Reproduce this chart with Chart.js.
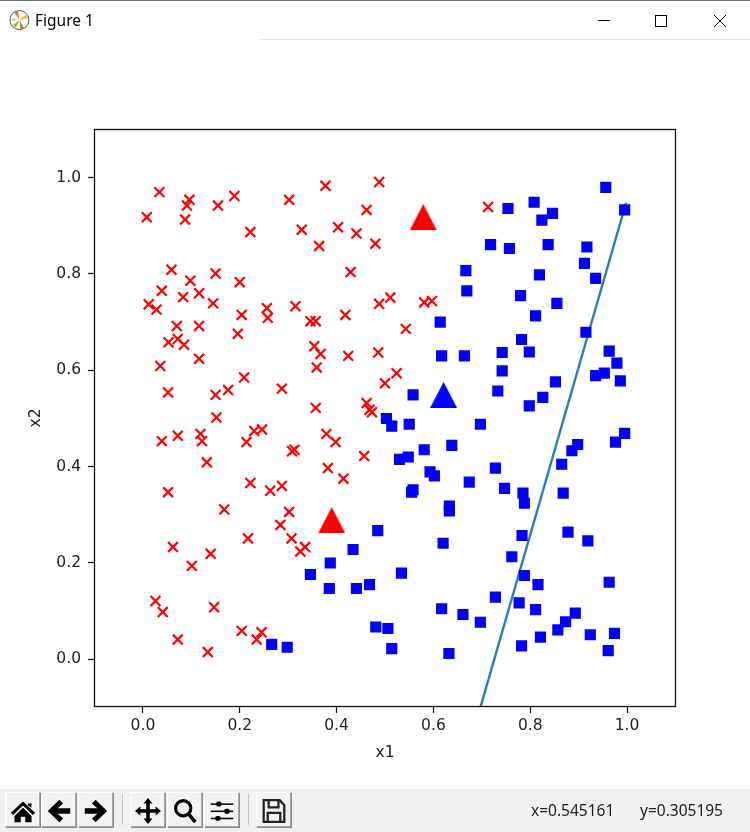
<!DOCTYPE html>
<html>
<head>
<meta charset="utf-8">
<title>Figure 1</title>
<script src="https://cdn.jsdelivr.net/npm/chart.js@4/dist/chart.umd.min.js"></script>
<style>
  html, body { margin: 0; padding: 0; background: #fff; }
  #win { position: relative; width: 750px; height: 832px; overflow: hidden; font-family: "Noto Sans", sans-serif; color: #000; filter: blur(0.35px); }
  #topline { position: absolute; left: 0; top: 0; width: 750px; height: 1px; background: #666; }
  #titleline { position: absolute; left: 260px; top: 39px; width: 490px; height: 1px; background: #e3e3e3; }
  #title { position: absolute; left: 35px; top: 10px; font-size: 15.5px; line-height: 20px; }
  #plot { position: absolute; left: 0; top: 40px; width: 750px; height: 749px; }
  #toolbar { position: absolute; left: 0; top: 789px; width: 750px; height: 43px; background: #f0f0f0; }
  .btn { position: absolute; top: 3px; width: 35px; height: 35px; box-sizing: border-box; border: 1px solid; border-color: #fff #a8a8a8 #a8a8a8 #fff; box-shadow: 1px 1px 0 #8c8c8c; background: #f3f3f3; }
  .btn svg { position: absolute; left: 4px; top: 5px; width: 26px; height: 26px; }
  .sep { position: absolute; top: 5px; width: 1px; height: 31px; background: #c4c4c4; }
  .status { position: absolute; top: 11px; font-size: 15.5px; line-height: 20px; color: #222; }
  svg.chrome { position: absolute; }
</style>
</head>
<body>
<div id="win">
  <div id="topline"></div>
  <svg class="chrome" style="left:9px;top:9px" width="21" height="22" viewBox="0 0 21 22">
    <circle cx="10.5" cy="11" r="9.5" fill="#fff" stroke="#555" stroke-width="1"/>
    <path d="M10.5 11 L5 3 L9 2.5 Z" fill="#e8701a"/>
    <path d="M10.5 11 L18 5 L19 9 Z" fill="#f2b632"/>
    <path d="M10.5 11 L4 16 L7 18.5 Z" fill="#8fb339"/>
    <path d="M10.5 11 L15 19 L11.5 20 Z" fill="#e8701a"/>
    <path d="M10.5 11 L3 9 L2.5 12 Z" fill="#c9c9c9"/>
  </svg>
  <div id="title">Figure 1</div>
  <svg class="chrome" style="left:598px;top:14px" width="130" height="14" viewBox="0 0 130 14" fill="none" stroke="#000" stroke-width="1">
    <path d="M0 6.5 H12"/>
    <rect x="57.5" y="1.5" width="11" height="11"/>
    <path d="M116 1 L128 13 M128 1 L116 13"/>
  </svg>
  <div id="titleline"></div>
  <div id="plot"><canvas id="fig" width="750" height="749"></canvas></div>
  <div id="toolbar">
    <div class="btn" style="left:5px"><svg viewBox="0 0 29 29"><path d="M14.5 4 L28 16.5 L25.5 19 L14.5 8.5 L3.5 19 L1 16.5 Z M20 6 H24 V11 L20 8 Z M14.5 11 L24 20 V27 H17 V21 H12 V27 H5 V20 Z" fill="#000"/></svg></div>
    <div class="btn" style="left:41px"><svg viewBox="0 0 29 29"><path d="M15 2 L19 6 L13 11.5 L27 11.5 L27 17.5 L13 17.5 L19 23 L15 27 L2 14.5 Z" fill="#000"/></svg></div>
    <div class="btn" style="left:78px"><svg viewBox="0 0 29 29"><path d="M14 2 L10 6 L16 11.5 L2 11.5 L2 17.5 L16 17.5 L10 23 L14 27 L27 14.5 Z" fill="#000"/></svg></div>
    <div class="sep" style="left:122px"></div>
    <div class="btn" style="left:130px"><svg viewBox="0 0 29 29"><path d="M14.5 0 L19.5 6 L16.5 6 L16.5 12.5 L23 12.5 L23 9.5 L29 14.5 L23 19.5 L23 16.5 L16.5 16.5 L16.5 23 L19.5 23 L14.5 29 L9.5 23 L12.5 23 L12.5 16.5 L6 16.5 L6 19.5 L0 14.5 L6 9.5 L6 12.5 L12.5 12.5 L12.5 6 L9.5 6 Z" fill="#000"/></svg></div>
    <div class="btn" style="left:167px"><svg viewBox="0 0 29 29" fill="none" stroke="#000"><circle cx="12.5" cy="11.5" r="8.5" stroke-width="3.5"/><path d="M18.5 18 L26 27" stroke-width="4"/></svg></div>
    <div class="btn" style="left:204px"><svg viewBox="0 0 29 29" fill="#000"><rect x="2" y="6" width="25" height="1.7"/><rect x="2" y="14" width="25" height="1.7"/><rect x="2" y="22" width="25" height="1.7"/><rect x="8" y="4" width="6" height="5.5" rx="2"/><rect x="17" y="12" width="6" height="5.5" rx="2"/><rect x="7" y="20" width="6" height="5.5" rx="2"/></svg></div>
    <div class="sep" style="left:248px"></div>
    <div class="btn" style="left:256px"><svg viewBox="0 0 29 29" fill="none" stroke="#222" stroke-width="2.5"><path d="M4 2.5 H21 L26 8 V26.5 H3 V2.5 Z"/><path d="M8.5 3 V10.5 H19.5 V3"/><path d="M7.5 26 V16.5 H21.5 V26"/></svg></div>
    <div class="status" style="left:531px">x=0.545161</div>
    <div class="status" style="left:640px">y=0.305195</div>
  </div>
</div>
<script>
// class 0, crosses
const redX = [0.034,0.096,0.091,0.008,0.087,0.155,0.189,0.302,0.377,0.488,0.462,0.222,0.328,0.403,0.441,0.480,0.364,
  0.059,0.150,0.098,0.200,0.429,0.039,0.116,0.083,0.012,0.028,0.145,0.256,0.258,0.204,0.315,0.346,0.357,0.418,0.488,0.511,
  0.070,0.116,0.196,0.053,0.072,0.085,0.116,0.354,0.367,0.424,0.486,0.359,0.036,0.209,0.052,0.150,0.176,0.287,0.500,
  0.357,0.462,0.473,0.468,0.152,0.713,0.581,0.597,0.543,0.524,
  0.039,0.072,0.119,0.122,0.214,0.230,0.246,0.132,0.313,0.308,0.379,0.398,0.457,0.382,0.414,0.052,0.222,0.263,0.287,
  0.168,0.302,0.284,0.307,0.217,0.335,0.325,0.062,0.140,0.101,0.026,0.041,0.147,0.204,0.245,0.235,0.072,0.134];
const redY = [0.970,0.954,0.942,0.918,0.913,0.942,0.962,0.954,0.983,0.991,0.933,0.887,0.892,0.897,0.884,0.863,0.858,
  0.809,0.801,0.786,0.783,0.804,0.765,0.760,0.752,0.737,0.726,0.739,0.729,0.709,0.715,0.733,0.702,0.702,0.715,0.738,0.751,
  0.692,0.692,0.676,0.658,0.665,0.653,0.624,0.650,0.634,0.630,0.637,0.606,0.609,0.585,0.554,0.549,0.559,0.562,0.573,
  0.522,0.532,0.513,0.518,0.502,0.939,0.741,0.744,0.686,0.594,
  0.453,0.464,0.468,0.453,0.451,0.474,0.477,0.409,0.435,0.432,0.468,0.451,0.422,0.397,0.375,0.347,0.366,0.350,0.360,
  0.311,0.306,0.279,0.251,0.251,0.233,0.224,0.233,0.219,0.194,0.121,0.098,0.108,0.059,0.056,0.041,0.041,0.015];

// class 1, squares
const blueX = [0.956,0.995,0.754,0.808,0.846,0.824,0.718,0.757,0.837,0.917,0.912,0.935,0.819,0.667,0.669,0.780,0.855,0.811,
  0.614,0.915,0.782,0.798,0.742,0.617,0.664,0.742,0.963,0.979,0.953,0.935,0.986,0.852,0.826,0.733,0.798,0.558,
  0.697,0.503,0.514,0.550,0.995,0.976,0.898,0.886,0.865,0.868,0.638,0.581,0.548,0.530,0.593,0.602,0.728,0.674,0.747,
  0.785,0.788,0.558,0.555,0.633,0.633,0.783,0.878,0.919,0.620,0.762,0.534,0.788,0.816,0.963,0.728,0.777,0.811,0.893,
  0.873,0.857,0.617,0.661,0.697,0.924,0.974,0.821,0.782,0.961,0.632,0.506,0.514,0.481,0.485,
  0.434,0.387,0.346,0.385,0.441,0.468,0.266,0.298];
const blueY = [0.980,0.933,0.936,0.949,0.926,0.912,0.861,0.853,0.861,0.856,0.822,0.791,0.798,0.807,0.765,0.755,0.739,0.713,
  0.700,0.679,0.664,0.638,0.637,0.630,0.630,0.599,0.640,0.615,0.594,0.589,0.578,0.576,0.544,0.557,0.526,0.549,
  0.488,0.500,0.484,0.488,0.469,0.451,0.446,0.433,0.405,0.345,0.444,0.435,0.420,0.415,0.389,0.381,0.397,0.368,0.355,
  0.345,0.324,0.352,0.347,0.318,0.308,0.257,0.264,0.246,0.241,0.213,0.179,0.174,0.155,0.160,0.129,0.117,0.103,0.096,
  0.078,0.061,0.105,0.093,0.077,0.051,0.054,0.046,0.028,0.018,0.012,0.064,0.022,0.067,0.267,
  0.228,0.200,0.176,0.147,0.147,0.155,0.031,0.025];

// cluster centres
const redCentreX = [0.579,0.390];
const redCentreY = [0.918,0.289];
const blueCentreX = [0.621];
const blueCentreY = [0.549];

// decision line
const lineX = [0.697,0.998];
const lineY = [-0.100,0.948];

const xTicks = [0.0,0.2,0.4,0.6,0.8,1.0];
const yTicks = [0.0,0.2,0.4,0.6,0.8,1.0];

const zip = (xs, ys) => xs.map((x, i) => ({x: x, y: ys[i]}));

// chart.js triangles are centred on the centroid, matplotlib's on mid height
function triangle(colour) {
  const c = document.createElement('canvas');
  c.width = 27;
  c.height = 26;
  const g = c.getContext('2d');
  g.fillStyle = colour;
  g.beginPath();
  g.moveTo(13.5, 0);
  g.lineTo(27, 26);
  g.lineTo(0, 26);
  g.closePath();
  g.fill();
  return c;
}

// all four spines
const frame = {
  id: 'frame',
  afterDraw(chart) {
    const a = chart.chartArea, g = chart.ctx;
    g.save();
    g.strokeStyle = '#111';
    g.lineWidth = 1.3;
    g.strokeRect(a.left, a.top, a.right - a.left, a.bottom - a.top);
    g.restore();
  }
};

function axis(ticks, label, size, min, tickPad, titlePad) {
  return {
    type: 'linear',
    min: min,
    max: 1.1,
    afterBuildTicks: s => { s.ticks = ticks.map(v => ({value: v})); },
    afterFit: s => { if (s.isHorizontal()) s.height = size; else s.width = size; },
    grid: {drawOnChartArea: false, drawTicks: true, tickLength: 6.5, tickColor: '#111', tickWidth: 1.2},
    border: {display: false},
    ticks: {
      color: '#222',
      font: {family: 'DejaVu Sans', size: 15.5},
      padding: tickPad,
      maxRotation: 0,
      autoSkip: false,
      callback: v => v.toFixed(1)
    },
    title: {display: true, text: label, color: '#222', font: {family: 'DejaVu Sans', size: 15.5}, padding: {top: titlePad, bottom: 4}}
  };
}

new Chart(document.getElementById('fig'), {
  type: 'scatter',
  data: {
    datasets: [
      {data: zip(redCentreX, redCentreY), pointStyle: triangle('#ff0000'), order: 1},
      {data: zip(blueCentreX, blueCentreY), pointStyle: triangle('#0000ff'), order: 1},
      {data: zip(blueX, blueY), pointStyle: 'rect', pointRadius: 7.9, backgroundColor: '#0000ff', borderColor: '#0000ff', borderWidth: 0, order: 2},
      {data: zip(redX, redY), pointStyle: 'crossRot', pointRadius: 7, borderColor: '#ff0000', borderWidth: 2.2, order: 2},
      {data: zip(lineX, lineY), type: 'line', showLine: true, pointRadius: 0, borderColor: '#2a7db5', borderWidth: 2.4, order: 3}
    ]
  },
  options: {
    responsive: false,
    animation: false,
    events: [],
    layout: {padding: {left: 0, top: 89.5, right: 74.5, bottom: 22.5}},
    plugins: {legend: {display: false}, tooltip: {enabled: false}},
    scales: {
      x: axis(xTicks, 'x1', 60, -0.1, 4, 5.5),
      y: axis(yTicks, 'x2', 94.5, -0.098, 7, 27)
    }
  },
  plugins: [frame]
});
</script>
</body>
</html>
